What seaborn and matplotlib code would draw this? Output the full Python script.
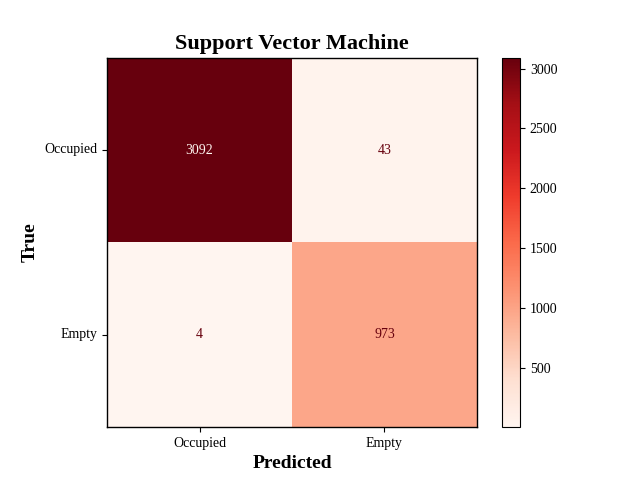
import numpy as np
import pandas as pd
import matplotlib
matplotlib.use("Agg")
import matplotlib.pyplot as plt
import seaborn as sns

# Confusion matrix values
labels = ["Occupied", "Empty"]
row_occupied = [3092, 43]
row_empty = [4, 973]

cm = pd.DataFrame([row_occupied, row_empty], index=labels, columns=labels)

plt.rcParams["font.family"] = ["Liberation Serif", "DejaVu Serif"]

fig, ax = plt.subplots(figsize=(6.4, 4.8), dpi=100)
sns.heatmap(cm, cmap="Reds", annot=True, fmt="d", ax=ax, cbar=True,
            annot_kws={"fontsize": 10})
ax.set_aspect("equal")

# text colours like sklearn's display: light text on dark cell, dark red elsewhere
cmap = plt.get_cmap("Reds")
thresh = (cm.values.max() + cm.values.min()) / 2.0
for txt, val in zip(ax.texts, cm.values.flatten()):
    txt.set_color(cmap(0.0) if val > thresh else cmap(1.0))

for s in ax.spines.values():
    s.set_visible(True)
    s.set_linewidth(1.0)
ax.tick_params(axis="both", length=3.5, width=0.8, labelsize=10)
ax.set_yticklabels(labels, rotation=0)
ax.set_xticklabels(labels, rotation=0)

cbar = ax.collections[0].colorbar
cbar.outline.set_linewidth(0.8)
cbar.outline.set_visible(True)
cbar.ax.tick_params(labelsize=10, length=3.5, width=0.8)

ax.set_title("Support Vector Machine", fontsize=16, fontweight="bold")
ax.set_xlabel("Predicted", fontsize=14, fontweight="bold")
ax.set_ylabel("True", fontsize=14, fontweight="bold")

plt.savefig("out.png", dpi=100)
